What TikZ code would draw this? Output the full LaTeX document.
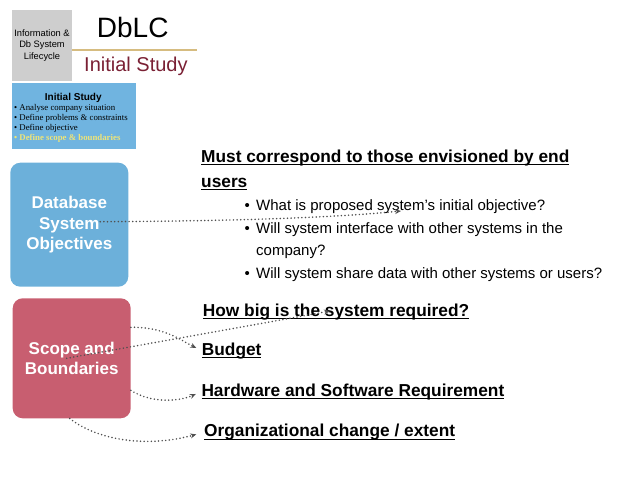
\documentclass[tikz,border=0pt]{standalone}
\usepackage{fontspec}
\setmainfont{Liberation Sans}
\newfontfamily\tnr{Liberation Serif}
\usetikzlibrary{arrows.meta}
\newcommand{\ulx}[1]{\setbox0\hbox{#1}\rlap{\rule[-3.4pt]{\wd0}{1.4pt}}\box0}
\definecolor{dsoblue}{RGB}{108,176,218}
\definecolor{scopered}{RGB}{200,94,112}
\definecolor{isblue}{RGB}{112,180,224}
\definecolor{lcgray}{RGB}{206,206,206}
\definecolor{maroon}{RGB}{122,32,52}
\definecolor{tanline}{RGB}{214,188,128}
\definecolor{hiyellow}{RGB}{238,228,120}
\definecolor{dotgray}{RGB}{80,80,80}

\begin{document}
\begin{tikzpicture}[x=1pt,y=-1pt,
  box/.style={rounded corners=10pt,minimum width=118pt,text=white,align=center,font=\fontsize{17}{20.5}\selectfont\bfseries},
  head/.style={anchor=base west,inner sep=0pt,font=\fontsize{17.3}{20}\selectfont\bfseries},
  item/.style={anchor=base west,inner sep=0pt,font=\fontsize{15}{18}\selectfont},
  small/.style={anchor=base west,inner sep=0pt,font=\tnr\fontsize{8.8}{10}\selectfont},
  link/.style={dotgray,line width=1.7pt,dash pattern=on 0pt off 3.6pt,line cap=round,-{Stealth[length=6pt,width=5pt]}}]
  \useasboundingbox (0,0) rectangle (638,479);
  \node[fill=lcgray,minimum width=60pt,minimum height=71pt,inner sep=0pt,align=center,font=\fontsize{9.3}{11.2}\selectfont] (dblc) at (42,45.5) {Information \&\\Db System\\Lifecycle};
  \node[anchor=base west,inner sep=0pt,font=\fontsize{28}{30}\selectfont] (title) at (96.7,37.7) {DbLC};
  \draw[tanline,line width=1.5pt] (72,50) -- (197,50);
  \node[anchor=base west,inner sep=0pt,text=maroon,font=\fontsize{20}{24}\selectfont] (sub) at (84,71) {Initial Study};

  \node[fill=isblue,minimum width=124pt,minimum height=66pt,inner sep=0pt] (isbox) at (74,116) {};
  \node[anchor=base,inner sep=0pt,font=\fontsize{10}{12}\selectfont\bfseries] (istitle) at (73.3,100) {Initial Study};
  \foreach \t [count=\i] in {Analyse company situation,Define problems \& constraints,Define objective}
    \node[small] (isb\i) at (14,{100.7+10*\i}) {\textbullet\ \t};
  \node[small,text=hiyellow,font=\tnr\bfseries\fontsize{8.8}{10}\selectfont] (isb4) at (14,140.7) {\textbullet\ Define scope \& boundaries};

  \node[box,fill=dsoblue,minimum height=124pt] (dso) at (69.3,224.7) {Database\\System\\Objectives};
  \node[box,fill=scopered,minimum height=120pt] (scope) at (71.7,358.3) {Scope and\\Boundaries};

  \node[head] (must) at (201,162) {\ulx{Must correspond to those envisioned by end}};
  \node[head] (users) at (201,187) {\ulx{users}};
  \node[item] (q1) at (256,210.7) {What is proposed system’s initial objective?};
  \node[item] (q2) at (256,233) {Will system interface with other systems in the};
  \node[item] (q2b) at (256,255.5) {company?};
  \node[item] (q3) at (256,278) {Will system share data with other systems or users?};
  \foreach \q in {q1,q2,q3}
    \node[item,anchor=base east] (dot\q) at ([xshift=-6pt]\q.base west) {\textbullet};

  \node[head] (size) at (202.7,316) {\ulx{How big is the system required?}};
  \node[head] (budget) at (201.7,355) {\ulx{Budget}};
  \node[head] (hw) at (201.3,396) {\ulx{Hardware and Software Requirement}};
  \node[head] (org) at (204,436.7) {\ulx{Organizational change / extent}};

  \coordinate (sysA) at (401,211);
  \coordinate (sysB) at (330,311);
  \draw[link] ([xshift=31pt,yshift=3pt]dso.center) .. controls (250,221) and (340,217) .. (sysA);
  \draw[link] ([xshift=-5pt]scope.center) .. controls (180,338) and (270,322) .. (sysB);
  \draw[link,shorten >=6pt] ([yshift=31pt]scope.east) .. controls (165,327) and (180,340) .. (budget.west);
  \draw[link,shorten >=6pt] ([yshift=-32pt]scope.east) .. controls (150,403) and (178,402) .. (hw.west);
  \draw[link,shorten >=8pt] ([xshift=-2pt]scope.south) .. controls (100,442) and (150,447) .. (org.west);
\end{tikzpicture}
\end{document}
